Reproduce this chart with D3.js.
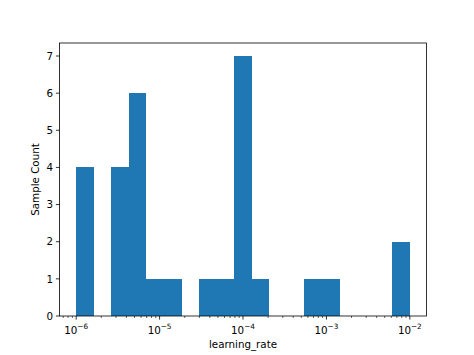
<!DOCTYPE html>
<html lang="en">
<head>
  <meta charset="UTF-8">
  <title>learning_rate histogram</title>
  <script src="https://d3js.org/d3.v7.min.js"></script>
  <style>
    body { margin: 0; background: #fff; }
    svg { font-family: "DejaVu Sans", sans-serif; }
  </style>
</head>
<body>
<svg id="chart" width="474" height="355"></svg>
<script>
  // bin edges (log spaced, 1e-6 .. 1e-2, 19 bins)
  const binEdges = [1e-6, 1.6238e-6, 2.6367e-6, 4.2813e-6, 6.9519e-6, 1.1288e-5, 1.8330e-5,
    2.9764e-5, 4.8329e-5, 7.8476e-5, 1.2743e-4, 2.0691e-4, 3.3598e-4, 5.4556e-4, 8.8587e-4,
    1.4384e-3, 2.3357e-3, 3.7927e-3, 6.1585e-3, 1e-2];
  const counts = [4, 0, 4, 6, 1, 1, 0, 1, 1, 7, 1, 0, 0, 1, 1, 0, 0, 0, 2];
  const xMajorTicks = [1e-6, 1e-5, 1e-4, 1e-3, 1e-2];
  const xTickExps = ["\u22126", "\u22125", "\u22124", "\u22123", "\u22122"];
  const yTicks = [0, 1, 2, 3, 4, 5, 6, 7];

  const svg = d3.select("#chart");
  const margin = { left: 59.5, right: 47.5, top: 43, bottom: 39 };
  const W = 474, H = 355;

  const x = d3.scaleLog().domain([Math.pow(10, -6.2), Math.pow(10, -1.8)])
    .range([margin.left, W - margin.right]);
  const y = d3.scaleLinear().domain([0, 7.35]).range([H - margin.bottom, margin.top]);

  const bins = counts.map((c, i) => ({ x0: binEdges[i], x1: binEdges[i + 1], n: c }));

  svg.append("g").selectAll("rect")
    .data(bins.filter(d => d.n > 0))
    .join("rect")
    .attr("x", d => x(d.x0))
    .attr("width", d => x(d.x1) - x(d.x0))
    .attr("y", d => y(d.n))
    .attr("height", d => y(0) - y(d.n))
    .attr("fill", "#1f77b4")
    .attr("shape-rendering", "crispEdges");

  // x axis
  const xAxis = svg.append("g").attr("transform", `translate(0,${y(0)})`);
  const minor = x.ticks().filter(t => !xMajorTicks.some(m => Math.abs(t / m - 1) < 1e-9));
  xAxis.selectAll("line.minor").data(minor).join("line")
    .attr("x1", d => x(d)).attr("x2", d => x(d))
    .attr("y1", 0).attr("y2", 2).attr("stroke", "#000").attr("stroke-width", 0.6);
  xAxis.selectAll("line.major").data(xMajorTicks).join("line")
    .attr("x1", d => x(d)).attr("x2", d => x(d))
    .attr("y1", 0).attr("y2", 3.6).attr("stroke", "#000").attr("stroke-width", 0.8);
  const xl = xAxis.selectAll("text").data(xMajorTicks).join("text")
    .attr("x", d => x(d)).attr("y", 17.5)
    .attr("text-anchor", "middle")
    .attr("font-size", "10.3px").attr("fill", "#000");
  xl.append("tspan").text("10");
  xl.append("tspan").attr("dy", -4.5).attr("font-size", "7.3px").text((d, i) => xTickExps[i]);

  // y axis
  const yAxis = svg.append("g").attr("transform", `translate(${margin.left},0)`);
  yAxis.selectAll("line").data(yTicks).join("line")
    .attr("x1", -3.6).attr("x2", 0)
    .attr("y1", d => y(d)).attr("y2", d => y(d))
    .attr("stroke", "#000").attr("stroke-width", 0.8);
  yAxis.selectAll("text").data(yTicks).join("text")
    .attr("x", -6.5).attr("y", d => y(d)).attr("dy", "0.36em")
    .attr("text-anchor", "end").attr("font-size", "10.3px").attr("fill", "#000")
    .text(d => d);

  // frame
  svg.append("rect")
    .attr("x", margin.left).attr("y", margin.top)
    .attr("width", W - margin.left - margin.right)
    .attr("height", H - margin.top - margin.bottom)
    .attr("fill", "none").attr("stroke", "#000").attr("stroke-width", 0.8);

  // labels
  svg.append("text")
    .attr("x", (margin.left + W - margin.right) / 2).attr("y", 347.5)
    .attr("text-anchor", "middle").attr("font-size", "10.3px")
    .text("learning_rate");

  svg.append("text")
    .attr("transform", `translate(38.5,${(margin.top + H - margin.bottom) / 2}) rotate(-90)`)
    .attr("text-anchor", "middle").attr("font-size", "10.3px")
    .text("Sample Count");
</script>
</body>
</html>
